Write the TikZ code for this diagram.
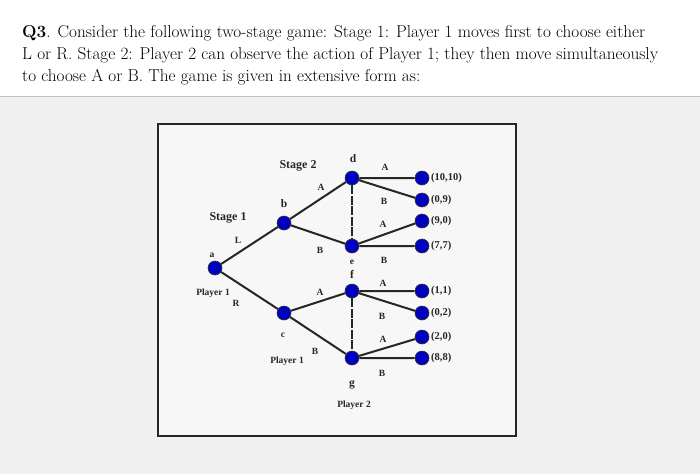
\documentclass[tikz,border=0pt]{standalone}
\usepackage{fontspec}
\newfontfamily\tms{Liberation Serif}
\begin{document}
\begin{tikzpicture}[x=1pt,y=-1pt,
 nd/.style={circle,fill=blue!75!black,draw=black!80,line width=0.6pt,minimum size=14pt,inner sep=0pt},
 ln/.style={line width=2pt,black!85},
 lb/.style={font=\tms\bfseries\fontsize{9.5}{10}\selectfont,text=black!85,inner sep=0pt},
 tx/.style={anchor=west,inner sep=0pt,font=\fontsize{17.2}{20}\selectfont}]
\useasboundingbox (0,0) rectangle (700,474);
\fill[white] (0,0) rectangle (700,96);
\fill[black!6] (0,96) rectangle (700,474);
\draw[black!25,line width=0.8pt] (0,96)--(700,96);
\node[tx] (t1) at (22,33) {\textbf{Q3}. Consider the following two-stage game: Stage 1: Player 1 moves first to choose either};
\node[tx] (t2) at (22,55) {L or R. Stage 2: Player 2 can observe the action of Player 1; they then move simultaneously};
\node[tx] (t3) at (22,77) {to choose A or B. The game is given in extensive form as:};
\draw[black!85,line width=1.8pt,fill=black!3] (158,124) rectangle (516,436);
\node[nd] (a) at (215,268) {};
\node[nd] (b) at (284,223) {};
\node[nd] (c) at (284,313) {};
\node[nd] (d) at (352,178) {};
\node[nd] (e) at (352,246) {};
\node[nd] (f) at (352,291) {};
\node[nd] (g) at (352,358) {};
\foreach \n/\y in {t1/178,t2/200,t3/221,t4/246,t5/291,t6/313,t7/337,t8/358}
  \node[nd] (\n) at (422,\y) {};
\draw[ln] (a)--(b) (a)--(c) (b)--(d) (b)--(e) (c)--(f) (c)--(g);
\draw[ln] (d)--(t1) (d)--(t2) (e)--(t3) (e)--(t4) (f)--(t5) (f)--(t6) (g)--(t7) (g)--(t8);
\draw[line width=2.4pt,black!85,dash pattern=on 9pt off 1.5pt] (d)--(e) (f)--(g);
\foreach \n/\t in {t1/(10{,}10),t2/(0{,}9),t3/(9{,}0),t4/(7{,}7),t5/(1{,}1),t6/(0{,}2),t7/(2{,}0),t8/(8{,}8)}
  \node[lb,anchor=west,font=\tms\bfseries\fontsize{10.5}{11}\selectfont] at ([xshift=9pt]\n.center) {\t};
\node[lb,font=\tms\bfseries\fontsize{12}{13}\selectfont] at (298,166) {Stage 2};
\node[lb,font=\tms\bfseries\fontsize{12}{13}\selectfont] at (228,218) {Stage 1};
\node[lb] at (212,255) {a};
\node[lb] at (213,293) {Player 1};
\node[lb] at (238,240) {L};
\node[lb] at (236,303) {R};
\node[lb,font=\tms\bfseries\fontsize{11.5}{12}\selectfont] at (284,204) {b};
\node[lb] at (283,335) {c};
\node[lb] at (287,361) {Player 1};
\node[lb,font=\tms\bfseries\fontsize{11.5}{12}\selectfont] at (353,159) {d};
\node[lb] at (352,262) {e};
\node[lb,font=\tms\bfseries\fontsize{11.5}{12}\selectfont] at (352,274) {f};
\node[lb,font=\tms\bfseries\fontsize{11.5}{12}\selectfont] at (352,385) {g};
\node[lb] at (354,405) {Player 2};
\node[lb] at (321,187) {A};
\node[lb] at (320,250) {B};
\node[lb] at (320,292) {A};
\node[lb] at (315,351) {B};
\node[lb] at (385,167) {A};
\node[lb] at (384,201) {B};
\node[lb] at (383,224) {A};
\node[lb] at (384,260) {B};
\node[lb] at (383,283) {A};
\node[lb] at (382,316) {B};
\node[lb] at (383,339) {A};
\node[lb] at (382,373) {B};
\end{tikzpicture}
\end{document}
